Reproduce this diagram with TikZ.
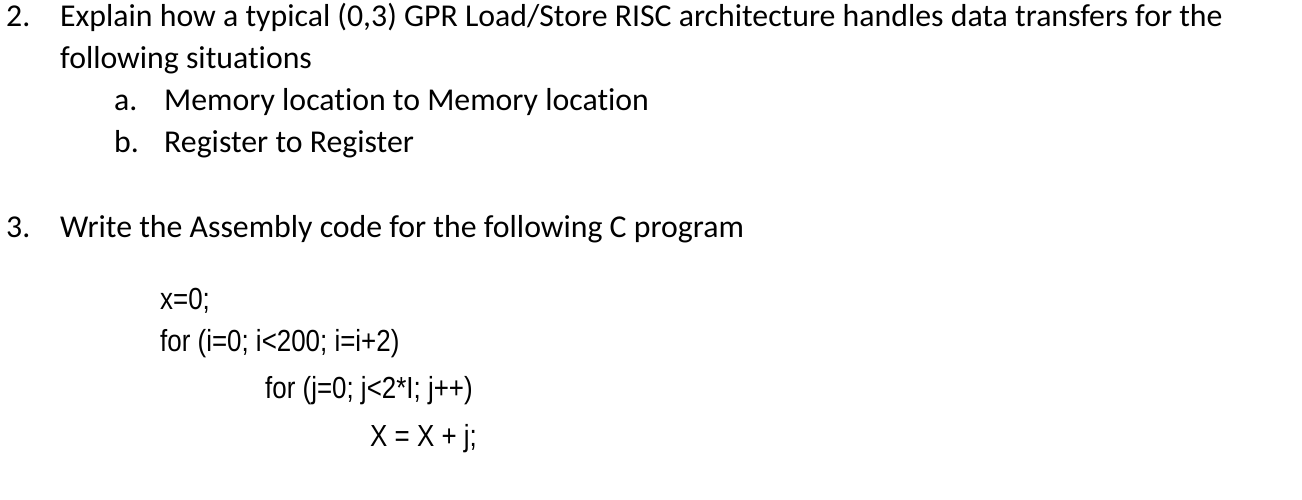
\documentclass[tikz,border=0pt]{standalone}
\usepackage{fontspec}
\setmainfont{Carlito}[Ligatures=NoCommon]
\newfontfamily\codef{Liberation Sans}[FakeStretch=0.85]
\begin{document}
\begin{tikzpicture}[x=1pt,y=-1pt,
  t/.style={anchor=base west,inner sep=0pt,font=\fontsize{31.8}{34}\selectfont},
  c/.style={anchor=base west,inner sep=0pt,font=\codef\fontsize{30.5}{34}\selectfont}]
\useasboundingbox (0,0) rectangle (1302,500);
\node[t] (n2) at (6,27) {2.};
\node[t] (l1) at (60,27) {Explain how a typical (0,3) GPR Load/Store RISC architecture handles data transfers for the};
\node[t] (l2) at (60,69) {following situations};
\node[t] (a) at (114,111) {a.};
\node[t] (at) at (164,111) {Memory location to Memory location};
\node[t] (b) at (114,153) {b.};
\node[t] (bt) at (164,153) {Register to Register};
\node[t] (n3) at (6,237) {3.};
\node[t] (l3) at (60,237) {Write the Assembly code for the following C program};
\node[c] (c1) at (160,309) {x=0;};
\node[c] (c2) at (160,351) {for (i=0; i<200; i=i+2)};
\node[c] (c3) at (265,398) {for (j=0; j<2*I; j++)};
\node[c] (c4) at (370,446) {X = X + j;};
\end{tikzpicture}
\end{document}
